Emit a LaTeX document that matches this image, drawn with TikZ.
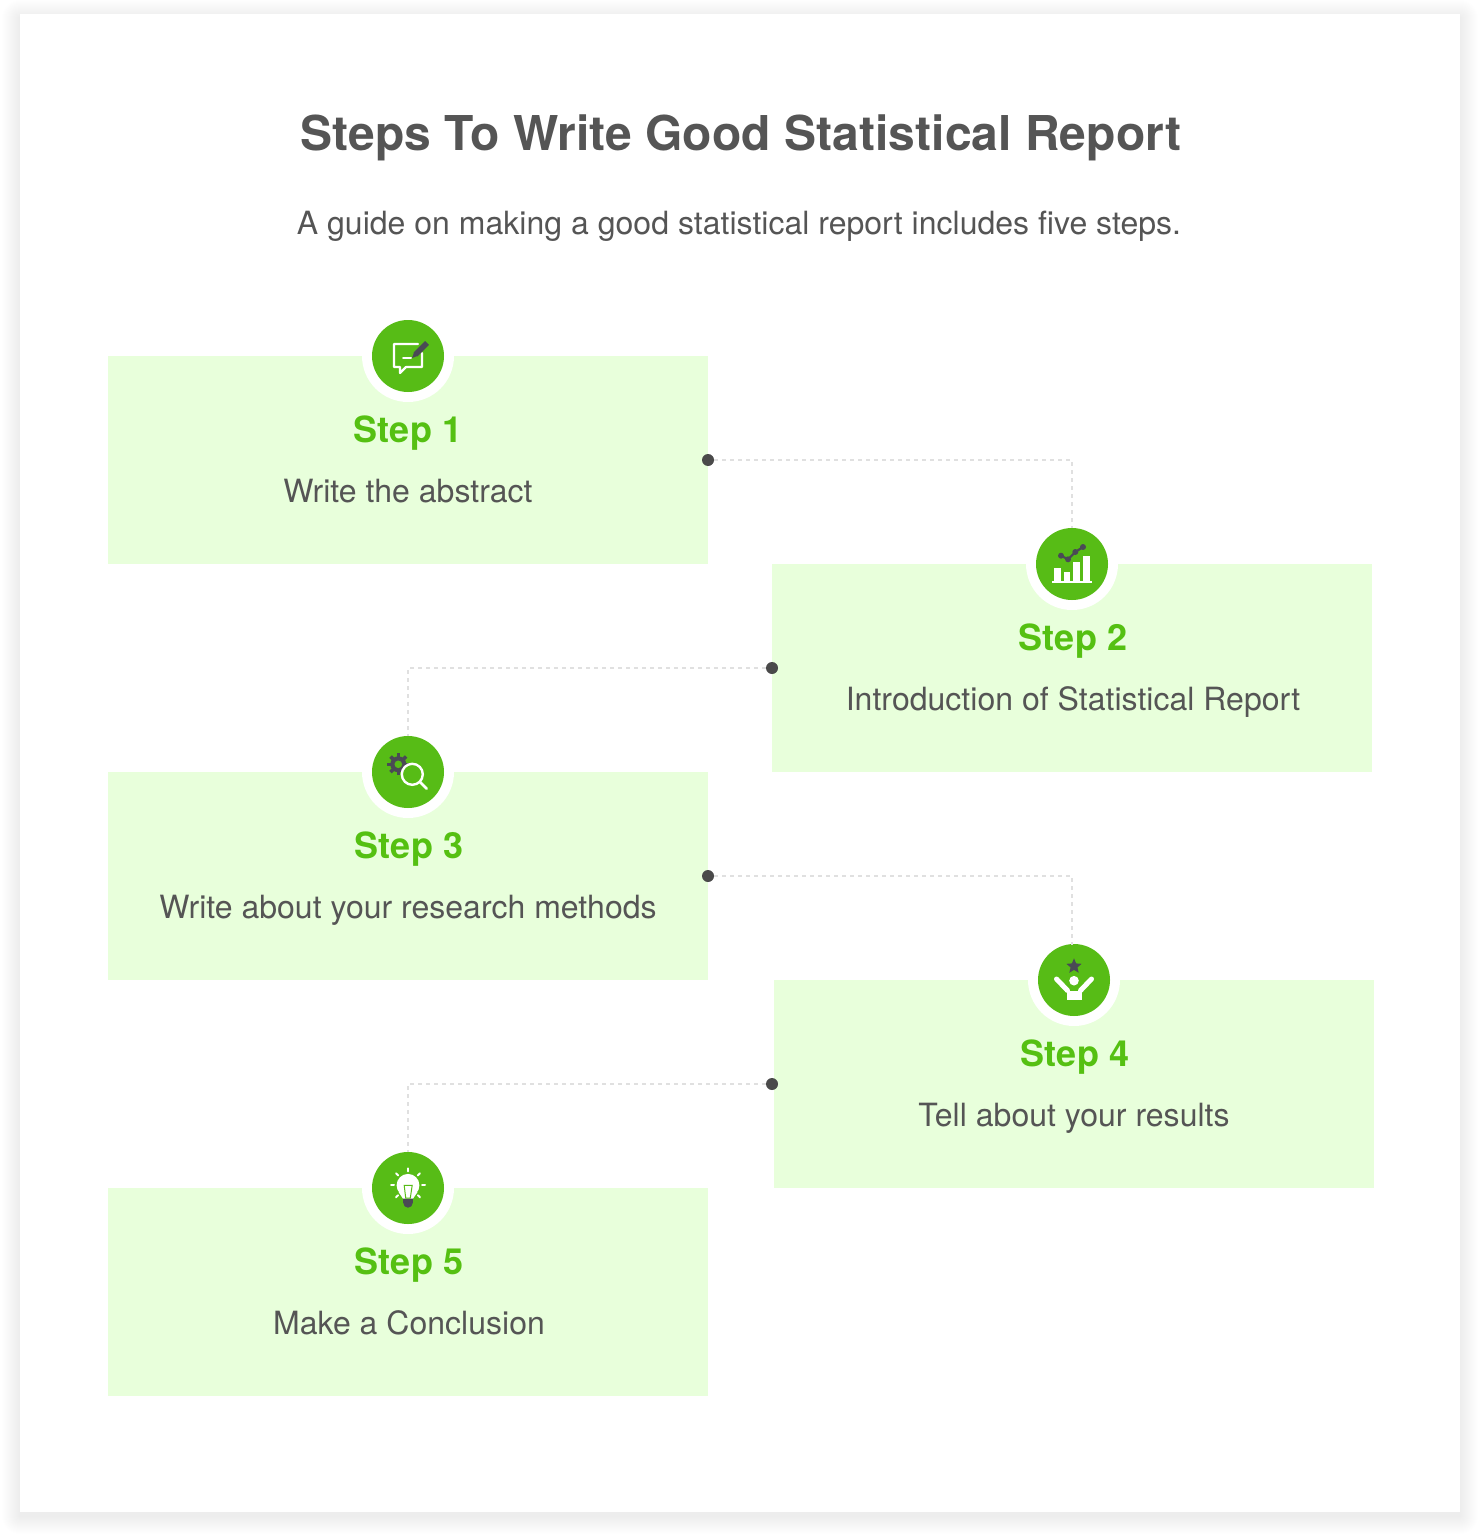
\documentclass[tikz,border=0pt]{standalone}
\usepackage{fontspec}
\setmainfont{TeX Gyre Heros}
\newfontfamily\titlefont[LetterSpace=0.1]{TeX Gyre Heros}
\newfontfamily\stepfont[LetterSpace=0.6]{TeX Gyre Heros}
\newfontfamily\bodyfont[LetterSpace=0.07]{TeX Gyre Heros}
\definecolor{boxfill}{HTML}{E8FFDB}
\definecolor{leaf}{HTML}{57BC16}
\definecolor{steptxt}{HTML}{55C012}
\definecolor{ink}{HTML}{555555}
\definecolor{darkicon}{HTML}{4A4A55}
\definecolor{dotc}{HTML}{4A4A4A}
\definecolor{dashc}{HTML}{E0E0E0}
\tikzset{
  x=1pt,y=-1pt,
  stepbox/.style={fill=boxfill,draw=none,minimum width=600pt,minimum height=208pt,inner sep=0,outer sep=0},
  ring/.style={circle,fill=white,draw=none,minimum size=92pt,inner sep=0},
  disc/.style={circle,fill=leaf,draw=none,minimum size=72pt,inner sep=0},
  dot/.style={circle,fill=dotc,draw=none,minimum size=12pt,inner sep=0},
  link/.style={draw=dashc,line width=1.4pt,dash pattern=on 4pt off 4pt},
  steplabel/.style={anchor=base,text=steptxt,inner sep=0,font=\stepfont\bfseries\fontsize{36}{40}\selectfont},
  bodylabel/.style={anchor=base,text=ink,inner sep=0,font=\bodyfont\fontsize{32}{38}\selectfont},
  wline/.style={draw=white,line cap=round,line join=round},
}
\begin{document}
\begin{tikzpicture}
\useasboundingbox (0,0) rectangle (1480,1538);
\fill[white] (0,0) rectangle (1480,1538);
% card shadow
\foreach \k in {18,17,...,1}{
  \fill[black,opacity=0.0045,rounded corners=\k pt] (20-\k,14+4-\k) rectangle (1460+\k,1512+4+\k);
}
\fill[white] (20,14) rectangle (1460,1512);
% title
\node[anchor=base,text=ink,inner sep=0,font=\titlefont\bfseries\fontsize{48}{54}\selectfont] (title) at (741,151) {Steps To Write Good Statistical Report};
\node[anchor=base,text=ink,inner sep=0,font=\bodyfont\fontsize{32}{38}\selectfont] (sub) at (739,235) {A guide on making a good statistical report includes five steps.};
% boxes
\node[stepbox] (b1) at (408,460) {};
\node[stepbox] (b2) at (1072,668) {};
\node[stepbox] (b3) at (408,876) {};
\node[stepbox] (b4) at (1074,1084) {};
\node[stepbox] (b5) at (408,1292) {};
% rings
\node[ring] (r1) at (408,356) {};
\node[ring] (r2) at (1072,564) {};
\node[ring] (r3) at (408,772) {};
\node[ring] (r4) at (1074,980) {};
\node[ring] (r5) at (408,1188) {};
% discs
\node[disc] (c1) at (408,356) {};
\node[disc] (c2) at (1072,564) {};
\node[disc] (c3) at (408,772) {};
\node[disc] (c4) at (1074,980) {};
\node[disc] (c5) at (408,1188) {};
% dots
\node[dot] (d1) at (708,460) {};
\node[dot] (d2) at (772,668) {};
\node[dot] (d3) at (708,876) {};
\node[dot] (d4) at (772,1084) {};
\coordinate (e4) at (1072,945);
% connectors
\draw[link] (d1) -| (c2);
\draw[link] (d2) -| (c3);
\draw[link] (d3) -| (e4);
\draw[link] (d4) -| (c5);
% labels
\node[steplabel] (s1) at (408,442) {Step 1};
\node[bodylabel] (t1) at (408,502) {Write the abstract};
\node[steplabel] (s2) at (1073,650) {Step 2};
\node[bodylabel] (t2) at (1073,710) {Introduction of Statistical Report};
\node[steplabel] (s3) at (409,858) {Step 3};
\node[bodylabel] (t3) at (408,918) {Write about your research methods};
\node[steplabel] (s4) at (1075,1066) {Step 4};
\node[bodylabel] (t4) at (1074,1126) {Tell about your results};
\node[steplabel] (s5) at (409,1274) {Step 5};
\node[bodylabel] (t5) at (409,1334) {Make a Conclusion};
% icon 1: speech bubble and pen
\begin{scope}[shift={(408,356)}]
  \draw[wline,line width=2.2pt] (10,-12) -- (-14,-12) -- (-14,11) -- (-8,11) -- (-8,17) -- (-2,11) -- (14,11) -- (14,-3);
  \draw[wline,line width=2pt] (-5,2) -- (3,2);
  \draw[darkicon,line width=5.5pt] (7.5,-1.5) -- (19,-13);
  \fill[darkicon] (4,2) -- (6,-3.5) -- (9.5,0) -- cycle;
\end{scope}
% icon 2: bars and trend
\begin{scope}[shift={(1072,564)}]
  \fill[white] (-17.7,4) rectangle (-11,17.5);
  \fill[white] (-8.3,8.3) rectangle (-1.7,17.5);
  \fill[white] (1.3,-2) rectangle (8,17.5);
  \fill[white] (11,-8.3) rectangle (17.7,17.5);
  \fill[white] (-20,17.3) rectangle (20,19.3);
  \draw[darkicon,line width=2.2pt] (-11,-8.3) -- (-4,-4.7) -- (3.3,-12) -- (11,-17);
  \foreach \p in {(-11,-8.3),(-4,-4.7),(3.3,-12),(11,-17)} \fill[darkicon] \p circle (3);
\end{scope}
% icon 3: gear and lens
\begin{scope}[shift={(408,772)}]
  \fill[darkicon] (-9.7,-7.7) circle (8);
  \foreach \a in {0,45,...,315}
    \draw[darkicon,line width=3.6pt] (-9.7,-7.7) ++(\a:6) -- ++(\a:5);
  \fill[leaf] (-9.7,-7.7) circle (3.8);
  \draw[white,line width=2.4pt,fill=leaf] (4.3,2.3) circle (10.5);
  \draw[wline,line width=2.8pt] (12,10) -- (18.7,16.7);
\end{scope}
% icon 4: star and person
\begin{scope}[shift={(1074,966.3)}]
  \fill[darkicon] (-90:8) -- (-54:3.6) -- (-18:8) -- (18:3.6) -- (54:8) -- (90:3.6) -- (126:8) -- (162:3.6) -- (198:8) -- (234:3.6) -- cycle;
\end{scope}
\begin{scope}[shift={(1074,980)}]
  \fill[white] (0,0.7) circle (4.8);
  \fill[white] (-7.5,10.5) rectangle (7.5,19.7);
  \draw[wline,line width=5pt] (-17.5,-1) -- (-6.5,10.5);
  \draw[wline,line width=5pt] (17.5,-1) -- (6.5,10.5);
\end{scope}
% icon 5: light bulb
\begin{scope}[shift={(408,1188)}]
  \fill[darkicon] (0,15) circle (4.7);
  \fill[darkicon] (-4.7,10) rectangle (4.7,15);
  \fill[white] (0,-2.7) circle (11.4);
  \fill[white] (-9.5,4) -- (9.5,4) -- (5,10.7) -- (-5,10.7) -- cycle;
  \draw[leaf,line width=1pt] (-3.8,-2.7) -- (4.2,-2.7) -- (2.3,10) -- (-2.3,10) -- cycle;
  \foreach \a in {-90,-45,0,45,135,180,225}
    \draw[wline,line width=2pt] (0,-2.7) ++(\a:14) -- ++(\a:3);
\end{scope}
\end{tikzpicture}
\end{document}
